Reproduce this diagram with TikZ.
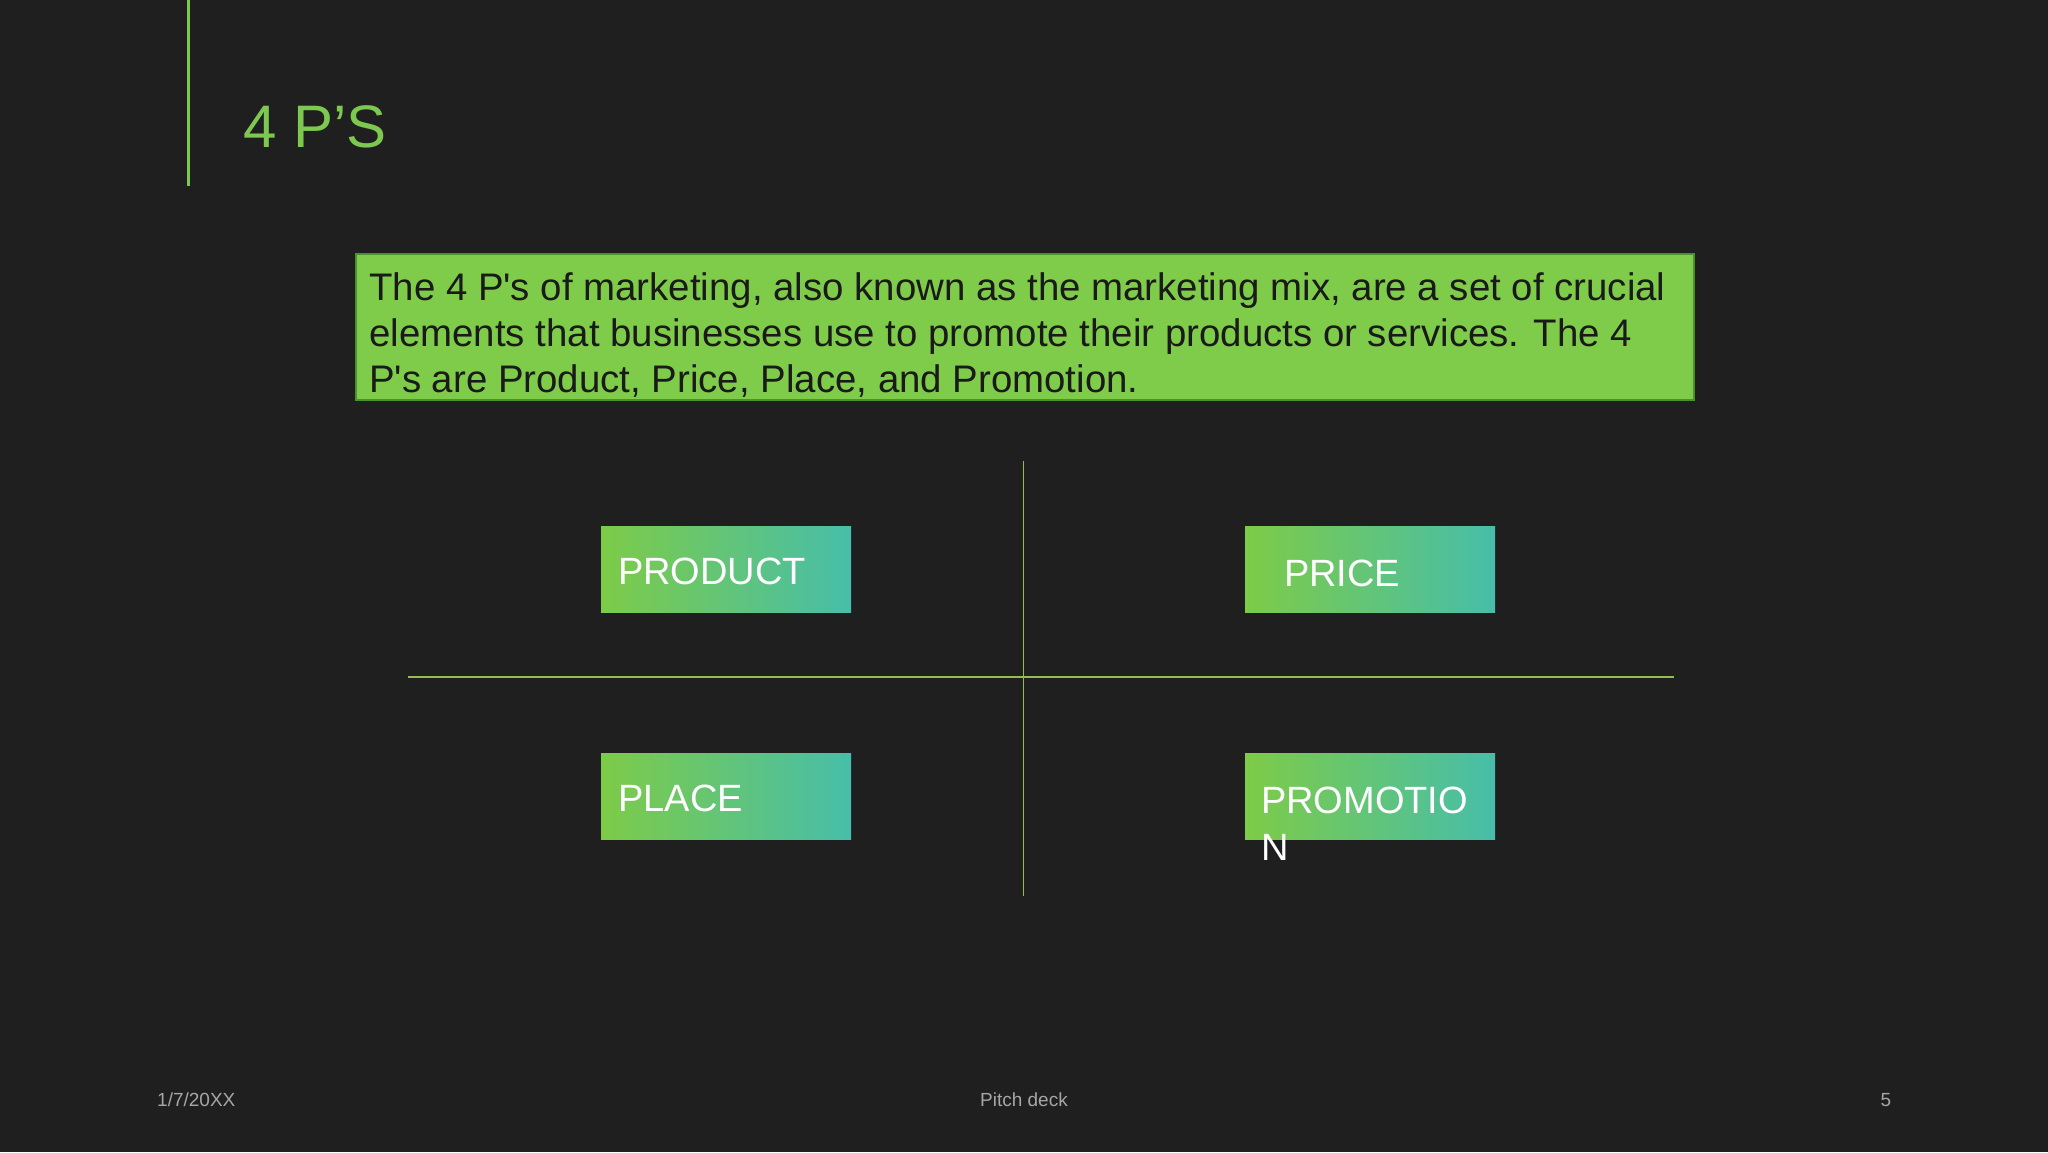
\documentclass[tikz,border=0pt]{standalone}
\usepackage{fontspec}
\setmainfont{Liberation Sans}
\definecolor{bg}{HTML}{1F1F1F}
\definecolor{titlegreen}{HTML}{7CC850}
\definecolor{boxgreen}{HTML}{7FCC4B}
\definecolor{boxborder}{HTML}{4A922C}
\definecolor{gradl}{HTML}{7DCB47}
\definecolor{gradr}{HTML}{47BEAA}
\definecolor{crossline}{HTML}{93BC52}
\definecolor{footgrey}{HTML}{A6A6A6}
\definecolor{bodytext}{HTML}{1A1A1A}
\tikzset{
  gbox/.style={left color=gradl, right color=gradr, draw=none, minimum width=250pt, minimum height=86pt, inner sep=0pt, anchor=north west},
  gtext/.style={text=white, font=\fontsize{38}{47}\selectfont, inner sep=0pt, anchor=base west},
  foot/.style={text=footgrey, font=\fontsize{19}{23}\selectfont, inner sep=0pt, anchor=base},
  xline/.style={draw=crossline, line width=1.6pt}
}
\begin{document}
\begin{tikzpicture}[x=1pt,y=-1pt]
\fill[bg] (0,0) rectangle (2048,1152);
\useasboundingbox (0,0) rectangle (2048,1152);
% title bar
\coordinate (bartop) at (188,0);
\coordinate (barbot) at (188,186);
\draw[titlegreen, line width=3pt] (bartop) -- (barbot);
\node[text=titlegreen, font=\fontsize{60}{72}\selectfont, inner sep=0pt, anchor=base west] (title) at (243,147) {4 P’S};
% description box
\node[fill=boxgreen, draw=boxborder, line width=2pt, minimum width=1338pt, minimum height=146pt, inner sep=0pt, anchor=north west] (desc) at (355,253) {};
\node[text=bodytext, font=\fontsize{38.4}{46}\selectfont, inner sep=0pt, anchor=base west, align=left] (desctext) at (369,392)
 {The 4 P\textquotesingle s of marketing, also known as the marketing mix, are a set of crucial\\
  elements that businesses use to promote their products or services. The 4\\
  P\textquotesingle s are Product, Price, Place, and Promotion.};
% cross
\coordinate (vtop) at (1023.5,461);
\coordinate (vbot) at (1023.5,896);
\coordinate (hleft) at (408,677);
\coordinate (hright) at (1674,677);
\draw[xline] (vtop) -- (vbot);
\draw[xline] (hleft) -- (hright);
% boxes
\node[gbox] (productbox) at (601,526) {};
\node[gtext] (producttext) at (618,584) {PRODUCT};
\node[gbox] (pricebox) at (1245,526) {};
\node[gtext] (pricetext) at (1284,586) {PRICE};
\node[gbox] (placebox) at (601,753) {};
\node[gtext] (placetext) at (618,811) {PLACE};
\node[gbox] (promobox) at (1245,753) {};
\node[gtext] (promotext1) at (1261,813) {PROMOTIO};
\node[gtext] (promotext2) at (1261,860) {N};
% footer
\node[foot, anchor=base west] (date) at (157,1106) {1/7/20XX};
\node[foot] (deck) at (1024,1106) {Pitch deck};
\node[foot] (page) at (1886,1106) {5};
\end{tikzpicture}
\end{document}
